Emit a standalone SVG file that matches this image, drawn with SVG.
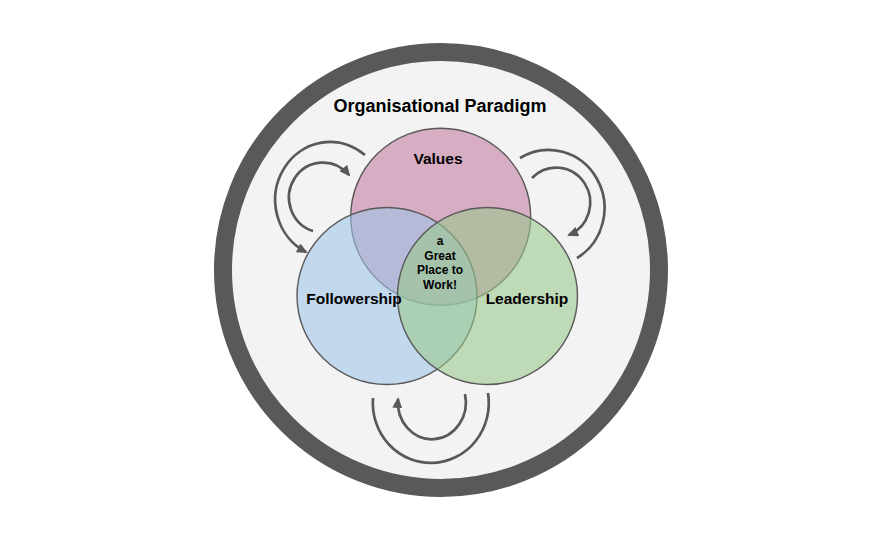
<svg xmlns="http://www.w3.org/2000/svg" width="881" height="542" viewBox="0 0 881 542">
<style>
text{font-family:"Liberation Sans",Arial,sans-serif;font-weight:bold;fill:#000;text-anchor:middle}
.set{stroke:#595959;stroke-width:1.4;fill-opacity:0.58}
.arc{fill:none;stroke:#595959;stroke-width:2.7}
</style>
<defs>
<marker id="ah" markerUnits="userSpaceOnUse" markerWidth="12" markerHeight="10" refX="9" refY="5" orient="auto">
<path d="M0,0 L11,5 L0,10 z" fill="#595959"/>
</marker>
</defs>
<rect width="881" height="542" fill="#ffffff"/>
<g id="paradigm">
<circle cx="441" cy="270" r="218" fill="#f3f3f3" stroke="#595959" stroke-width="18"/>
<text x="440" y="112" font-size="18">Organisational Paradigm</text>
</g>
<g id="values">
<ellipse class="set" cx="440.7" cy="216.7" rx="90" ry="88.5" fill="#c27ba0"/>
<text x="438" y="164" font-size="15.5">Values</text>
</g>
<g id="followership">
<ellipse class="set" cx="387" cy="296" rx="90" ry="88.5" fill="#9fc5e8"/>
</g>
<g id="leadership">
<ellipse class="set" cx="487.5" cy="296" rx="90" ry="88.5" fill="#9ac889"/>
</g>
<g id="labels">
<text x="354" y="304" font-size="15.5">Followership</text>
<text x="527" y="304" font-size="15.5">Leadership</text>
</g>
<g id="center">
<text x="440" y="245" font-size="12">a</text>
<text x="440" y="259.5" font-size="12">Great</text>
<text x="440" y="274" font-size="12">Place to</text>
<text x="440" y="288.5" font-size="12">Work!</text>
</g>
<g id="connectors">
<path class="arc" d="M365,155 A55,58 0 1 0 306,252" marker-end="url(#ah)"/>
<path class="arc" d="M313,231 A34,35 0 1 1 349,175" marker-end="url(#ah)"/>
<path class="arc" d="M520,158 A55,57 0 1 1 577,258"/>
<path class="arc" d="M532,178 A34,35 0 1 1 569,235" marker-end="url(#ah)"/>
<path class="arc" d="M373,398 A58,60 0 1 0 488,393"/>
<path class="arc" d="M465,394 A34,37 0 1 1 398,399" marker-end="url(#ah)"/>
</g>
</svg>
